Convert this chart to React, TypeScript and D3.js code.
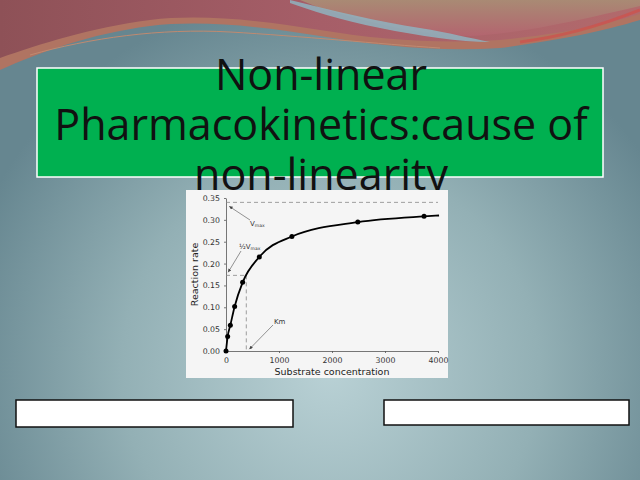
import { useEffect, useRef } from "react";
import * as d3 from "d3";

// substrate concentration vs reaction rate
const substrate: number[] = [0, 31, 82, 163, 314, 628, 1243, 2487, 3737];
const rate: number[] = [0, 0.033, 0.059, 0.102, 0.157, 0.215, 0.262, 0.295, 0.308];
// the drawn curve runs a little past the last point
const curveEndX = 4020;
const curveEndY = 0.31;

const vmax = 0.34;
const halfVmax = 0.173;
const km = 383;

const xTicks: number[] = [0, 1000, 2000, 3000, 4000];
const yTicks: number[] = [0, 0.05, 0.1, 0.15, 0.2, 0.25, 0.3, 0.35];

const titleLines: string[] = ["Non-linear", "Pharmacokinetics:cause of", "non-linearity"];

function App() {
  const svgRef = useRef<SVGSVGElement>(null);

  useEffect(() => {
    if (!svgRef.current) return;
    const svg = d3.select(svgRef.current);
    svg.selectAll("*").remove();

    const width = 640;
    const height = 480;
    svg.attr("width", width).attr("height", height);

    const defs = svg.append("defs");

    // slide background
    const bg = defs
      .append("radialGradient")
      .attr("id", "bg")
      .attr("gradientUnits", "userSpaceOnUse")
      .attr("cx", 330)
      .attr("cy", 370)
      .attr("r", 380);
    bg.append("stop").attr("offset", 0).attr("stop-color", "#b9d1d5");
    bg.append("stop").attr("offset", 0.55).attr("stop-color", "#93b0b5");
    bg.append("stop").attr("offset", 1).attr("stop-color", "#668690");

    const red = defs.append("linearGradient").attr("id", "red").attr("x1", 0).attr("x2", 1);
    red.append("stop").attr("offset", 0).attr("stop-color", "#8e5157");
    red.append("stop").attr("offset", 0.5).attr("stop-color", "#a65e68");
    red.append("stop").attr("offset", 1).attr("stop-color", "#b26a6c");

    const tan = defs.append("linearGradient").attr("id", "tan").attr("x1", 0).attr("x2", 0).attr("y1", 0).attr("y2", 1);
    tan.append("stop").attr("offset", 0).attr("stop-color", "#a98a74");
    tan.append("stop").attr("offset", 1).attr("stop-color", "#b3656f");

    svg.append("rect").attr("width", width).attr("height", height).attr("fill", "url(#bg)");

    // top waves
    svg
      .append("path")
      .attr("d", "M0,0 L640,0 L640,20 C600,32 560,40 500,48 C440,52 380,46 320,36 C260,26 200,20 150,26 C90,34 40,52 0,70 Z")
      .attr("fill", "#b07462");
    svg
      .append("path")
      .attr("d", "M0,0 L640,0 L640,14 C600,26 560,34 500,40 C440,44 380,40 320,30 C260,20 200,14 150,20 C90,28 40,44 0,58 Z")
      .attr("fill", "url(#red)");
    svg
      .append("path")
      .attr("d", "M300,0 L640,0 L640,6 C580,20 520,34 470,36 C420,36 370,22 320,8 Z")
      .attr("fill", "url(#tan)");
    // light blue streak
    svg
      .append("path")
      .attr("d", "M290,0 C330,10 380,22 420,28 C450,33 470,38 490,42 C460,42 420,36 380,28 C340,20 310,10 290,3 Z")
      .attr("fill", "#8fb3bf")
      .attr("opacity", 0.85);
    svg
      .append("path")
      .attr("d", "M30,55 C90,38 160,28 230,32 C300,36 380,44 440,48")
      .attr("fill", "none")
      .attr("stroke", "#c08a70")
      .attr("stroke-width", 1);
    svg
      .append("path")
      .attr("d", "M520,42 C570,36 610,22 640,10")
      .attr("fill", "none")
      .attr("stroke", "#d0504a")
      .attr("stroke-width", 3)
      .attr("opacity", 0.7);

    // green title box
    svg
      .append("rect")
      .attr("x", 37)
      .attr("y", 68)
      .attr("width", 566)
      .attr("height", 109)
      .attr("fill", "#00b050")
      .attr("stroke", "#ffffff")
      .attr("stroke-width", 1.5);

    svg
      .append("g")
      .selectAll("text")
      .data(titleLines)
      .join("text")
      .attr("x", 321)
      .attr("y", (_, i) => 90 + i * 50)
      .attr("text-anchor", "middle")
      .attr("font-family", "Open Sans")
      .attr("font-size", 43)
      .attr("fill", "#111111")
      .text((d) => d);

    // chart picture
    svg
      .append("rect")
      .attr("x", 186)
      .attr("y", 190)
      .attr("width", 262)
      .attr("height", 188)
      .attr("fill", "#f5f5f5");

    const x = d3.scaleLinear().domain([0, 4000]).range([226, 438]);
    const y = d3.scaleLinear().domain([0, 0.35]).range([351, 198]);

    const chart = svg.append("g").attr("font-family", "DejaVu Sans").attr("fill", "#333");

    const xAxis = chart
      .append("g")
      .attr("transform", `translate(0,${y(0)})`)
      .call(d3.axisBottom(x).tickValues(xTicks).tickSize(2).tickSizeOuter(0).tickFormat(d3.format("d")));
    const yAxis = chart
      .append("g")
      .attr("transform", `translate(${x(0)},0)`)
      .call(d3.axisLeft(y).tickValues(yTicks).tickSize(2).tickSizeOuter(0).tickFormat(d3.format(".2f")));
    [xAxis, yAxis].forEach((a) => {
      a.attr("font-family", "DejaVu Sans").attr("font-size", 7.8);
      a.selectAll("path, line").attr("stroke", "#555").attr("stroke-width", 0.8);
      a.selectAll("text").attr("fill", "#333");
    });
    xAxis.selectAll("text").attr("dy", "0.9em");
    yAxis.selectAll("text").attr("dx", "-1");

    chart
      .append("text")
      .attr("x", x(2000))
      .attr("y", 375)
      .attr("text-anchor", "middle")
      .attr("font-size", 9.5)
      .attr("fill", "#222")
      .text("Substrate concentration");
    chart
      .append("text")
      .attr("transform", `translate(198,${y(0.175)}) rotate(-90)`)
      .attr("text-anchor", "middle")
      .attr("font-size", 9.5)
      .attr("fill", "#222")
      .text("Reaction rate");

    // dashed guides
    const dash = chart.append("g").attr("stroke", "#888").attr("stroke-width", 0.8).attr("stroke-dasharray", "4,3").attr("fill", "none");
    dash.append("line").attr("x1", x(0)).attr("x2", x(4000)).attr("y1", y(vmax)).attr("y2", y(vmax));
    dash.append("line").attr("x1", x(0)).attr("x2", x(km)).attr("y1", y(halfVmax)).attr("y2", y(halfVmax));
    dash.append("line").attr("x1", x(km)).attr("x2", x(km)).attr("y1", y(halfVmax)).attr("y2", y(0));

    // arrows
    defs
      .append("marker")
      .attr("id", "arr")
      .attr("viewBox", "0 0 10 10")
      .attr("refX", 10)
      .attr("refY", 5)
      .attr("markerWidth", 5)
      .attr("markerHeight", 5)
      .attr("orient", "auto")
      .append("path")
      .attr("d", "M0,0 L10,5 L0,10 Z")
      .attr("fill", "#444");

    const arrows = [
      { x1: 250, y1: 220, x2: x(60), y2: y(0.331) },
      { x1: 241, y1: 251, x2: x(40), y2: y(0.18) },
      { x1: 273, y1: 325, x2: x(440), y2: y(0.004) },
    ];
    chart
      .append("g")
      .selectAll("line")
      .data(arrows)
      .join("line")
      .attr("x1", (d) => d.x1)
      .attr("y1", (d) => d.y1)
      .attr("x2", (d) => d.x2)
      .attr("y2", (d) => d.y2)
      .attr("stroke", "#666")
      .attr("stroke-width", 0.7)
      .attr("marker-end", "url(#arr)");

    const vm = chart.append("text").attr("x", 250).attr("y", 226).attr("font-size", 7).attr("fill", "#333");
    vm.append("tspan").text("V");
    vm.append("tspan").attr("font-size", 4.5).attr("dy", 1).text("max");

    const hv = chart.append("text").attr("x", 239).attr("y", 249).attr("font-size", 7).attr("fill", "#333");
    hv.append("tspan").text("½V");
    hv.append("tspan").attr("font-size", 4.5).attr("dy", 1).text("max");

    chart.append("text").attr("x", 274).attr("y", 324).attr("font-size", 7).attr("fill", "#333").text("Km");

    // curve and points
    const pts: [number, number][] = substrate.map((s, i) => [s, rate[i]]);
    const line = d3
      .line<[number, number]>()
      .x((d) => x(d[0]))
      .y((d) => y(d[1]))
      .curve(d3.curveMonotoneX);
    chart
      .append("path")
      .datum([...pts, [curveEndX, curveEndY] as [number, number]])
      .attr("d", line)
      .attr("fill", "none")
      .attr("stroke", "#000")
      .attr("stroke-width", 1.8);
    chart
      .append("g")
      .selectAll("circle")
      .data(pts)
      .join("circle")
      .attr("cx", (d) => x(d[0]))
      .attr("cy", (d) => y(d[1]))
      .attr("r", 2.5)
      .attr("fill", "#000");

    // empty boxes at the bottom
    svg
      .append("rect")
      .attr("x", 16)
      .attr("y", 400)
      .attr("width", 277)
      .attr("height", 27)
      .attr("fill", "#fff")
      .attr("stroke", "#111")
      .attr("stroke-width", 1.5);
    svg
      .append("rect")
      .attr("x", 384)
      .attr("y", 400)
      .attr("width", 245)
      .attr("height", 25)
      .attr("fill", "#fff")
      .attr("stroke", "#111")
      .attr("stroke-width", 1.5);
  }, []);

  return (
    <svg ref={svgRef} style={{ position: "absolute", left: 0, top: 0, display: "block" }}></svg>
  );
}

export default App;
